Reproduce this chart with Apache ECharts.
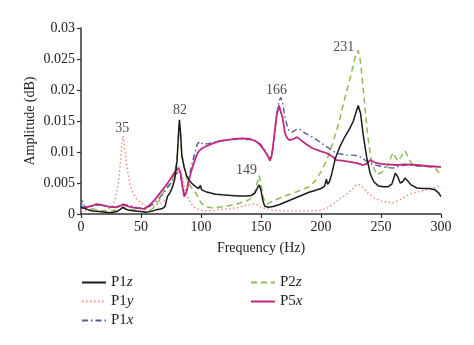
<!DOCTYPE html>
<html><head><meta charset="utf-8">
<script src="https://cdn.jsdelivr.net/npm/echarts@6/dist/echarts.min.js"></script>
<style>html,body{margin:0;padding:0;background:#fff}#c{width:474px;height:345px}</style>
</head><body><div id="c"></div>
<script>
const xTicks = [0, 50, 100, 150, 200, 250, 300];
const yTicks = [0, 0.005, 0.01, 0.015, 0.02, 0.025, 0.03];

const p1zF = [0,3,6,10,15,20,25,30,33,35,37,40,45,50,55,60,63,66,68,70,72,74,76,78,80,81,82,83,84,86,88,90,92,95,98,99.5,100.5,104,108,112,118,125,132,138,142,145,147,148.5,150,151.5,153,156,160,165,170,175,180,185,190,195,200,203,204.5,205.5,207,209,212,216,220,224,227,229,231,233,235,238,241,244,248,252,256,259,262,264,266,268,270,272,275,280,285,290,295,298,300];
const p1zA = [0.0012,0.0009,0.0007,0.0005,0.0004,0.0003,0.0002,0.0004,0.0008,0.0011,0.0008,0.0006,0.0005,0.0004,0.0003,0.0005,0.0007,0.0008,0.0009,0.0012,0.0028,0.0034,0.0042,0.0055,0.0085,0.012,0.0152,0.013,0.0095,0.0075,0.0062,0.0055,0.005,0.0045,0.0041,0.0046,0.0039,0.0036,0.0034,0.0032,0.0031,0.003,0.0029,0.0029,0.003,0.0034,0.0042,0.0047,0.0038,0.0022,0.0013,0.0011,0.0012,0.0015,0.0019,0.0023,0.0027,0.0031,0.0035,0.0038,0.0041,0.0045,0.0056,0.0048,0.0052,0.0065,0.009,0.011,0.0125,0.0138,0.015,0.0163,0.0175,0.0162,0.013,0.0092,0.0065,0.0052,0.0045,0.0044,0.0044,0.0048,0.0066,0.006,0.005,0.0052,0.0058,0.0054,0.0047,0.0042,0.0041,0.0041,0.0039,0.0034,0.0028];

const p1yF = [0,5,10,15,20,24,27,29,31,33,34,35,36,37,39,41,43,46,50,55,60,65,70,73,76,78,80,82,84,86,88,91,95,100,105,110,120,130,138,143,147,150,155,160,170,180,190,200,205,210,215,220,225,229,231,233,236,240,245,250,255,260,265,270,275,280,290,300];
const p1yA = [0.0006,0.0005,0.0004,0.0005,0.0006,0.0009,0.0016,0.0028,0.0048,0.0085,0.0112,0.0126,0.0115,0.0095,0.0068,0.0048,0.0035,0.0025,0.0018,0.0012,0.0012,0.0016,0.0022,0.003,0.0045,0.006,0.0072,0.0078,0.0065,0.0045,0.003,0.0018,0.001,0.0006,0.0005,0.0006,0.0008,0.001,0.0014,0.0016,0.0015,0.0011,0.0008,0.0006,0.0005,0.0005,0.0005,0.0006,0.0009,0.0016,0.0024,0.003,0.0038,0.0046,0.0048,0.0046,0.004,0.0032,0.0025,0.0021,0.0019,0.0018,0.0022,0.0028,0.0033,0.0035,0.004,0.0045];

const p1xF = [0,1,3,6,10,15,20,25,30,35,40,45,50,55,60,65,70,75,79,82,84,86,88,91,94,97,99,102,107,115,125,135,145,150,153,155,157.5,160,163,165,166.5,168,170,173,176,180,183,187,193,200,205,213,221,227,232,236,240,245,250,255,260,265,270,280,290,300];
const p1xA = [0.0008,0.0022,0.0012,0.0011,0.0013,0.0015,0.0014,0.0011,0.0012,0.0016,0.0014,0.0011,0.0009,0.001,0.0016,0.0025,0.0037,0.005,0.0064,0.007,0.0052,0.0032,0.0038,0.0068,0.0092,0.0113,0.0117,0.0112,0.0114,0.0118,0.012,0.0121,0.0119,0.0112,0.0104,0.0096,0.0088,0.0105,0.016,0.0182,0.0188,0.018,0.0155,0.0135,0.0132,0.0137,0.0136,0.013,0.0124,0.0115,0.0108,0.0098,0.0095,0.0095,0.0093,0.0088,0.0082,0.0079,0.0077,0.0075,0.0074,0.0077,0.0079,0.0078,0.0077,0.0076];

const p2zF = [0,5,10,15,20,25,30,35,40,45,50,55,60,63,66,68,70,72,75,78,80,81,82,83,84,86,88,90,93,96,100,104,108,115,122,130,136,140,143,145,147,148.5,150,152,155,160,170,180,190,195,200,205,210,215,220,225,229,231,233,236,239,242,246,250,255,260,264,267,270,273,277,285,295,300];
const p2zA = [0.001,0.0009,0.0008,0.0006,0.0005,0.0005,0.0007,0.001,0.0008,0.0006,0.0004,0.0003,0.0009,0.0016,0.0024,0.0032,0.0042,0.0045,0.005,0.0065,0.009,0.0122,0.0148,0.0122,0.0095,0.0075,0.0058,0.0048,0.004,0.0033,0.0018,0.0012,0.001,0.0011,0.0013,0.0016,0.002,0.0023,0.0028,0.0036,0.0052,0.0062,0.0048,0.0025,0.0016,0.0021,0.0029,0.0036,0.0044,0.0053,0.0068,0.0088,0.0115,0.0148,0.0188,0.0225,0.0257,0.0264,0.0245,0.0185,0.0125,0.0085,0.0064,0.0066,0.0076,0.0099,0.0085,0.0093,0.0102,0.009,0.0077,0.0077,0.0075,0.0062];

const p5xF = [0,5,10,13,16,20,25,30,35,40,45,50,53,57,62,66,70,74,77,79,81,83,84.5,86,88,90,92,94,96,98,101,105,110,115,121,128,135,141,146,149,152,155,157.5,159,161,163,165,166.5,168,170,172,174,177,180,184,188,193,200,205,210,213,218,224,230,235,238,241,245,250,255,263,270,280,290,300];
const p5xA = [0.0009,0.0011,0.0014,0.0016,0.0015,0.0013,0.0011,0.0011,0.0015,0.0012,0.001,0.0009,0.0008,0.0014,0.0024,0.0034,0.0044,0.0055,0.0064,0.007,0.0074,0.0066,0.0045,0.0028,0.0036,0.0055,0.007,0.0082,0.0093,0.0101,0.0106,0.011,0.0114,0.0117,0.0119,0.0121,0.0122,0.0121,0.0117,0.0112,0.0105,0.0096,0.0086,0.0095,0.0125,0.0158,0.0175,0.0172,0.0155,0.013,0.0122,0.0119,0.0121,0.0124,0.0118,0.0112,0.0106,0.0101,0.0098,0.0092,0.0087,0.0086,0.0084,0.0082,0.0079,0.0081,0.0087,0.0083,0.0081,0.008,0.0079,0.008,0.0079,0.0077,0.0076];

const annoText = ['35', '82', '149', '166', '231'];
const annoF = [34.3, 82.5, 138, 163, 219];
const annoA = [0.0138, 0.0167, 0.0070, 0.0200, 0.0269];

const zip = (f, a) => f.map((v, i) => [v, a[i]]);
const SERIF = '"Liberation Serif","DejaVu Serif",serif';
const rich = { i: { fontStyle: 'italic', fontFamily: SERIF, fontSize: 15, color: '#222' } };
const legendFmt = n => n.slice(0, 2) + '{i|' + n.slice(2) + '}';

function line(name, f, a, color, type, width, z) {
  return { name, type: 'line', data: zip(f, a), showSymbol: false, symbol: 'none', z,
    lineStyle: { color, type, width }, itemStyle: { color }, animation: false };
}

const legendBase = {
  orient: 'vertical', top: 275, padding: 0,
  itemWidth: 24, itemHeight: 14, itemGap: 4, itemTextGap: 10,
  itemStyle: { opacity: 0 },
  formatter: legendFmt,
  textStyle: { fontFamily: SERIF, fontSize: 15, color: '#222', rich }
};

const chart = echarts.init(document.getElementById('c'), null, { renderer: 'canvas' });
chart.setOption({
  backgroundColor: '#fff',
  animation: false,
  grid: { left: 81, right: 33, top: 28, bottom: 131, containLabel: false },
  xAxis: {
    type: 'value', min: 0, max: 300, interval: 50,
    name: 'Frequency (Hz)', nameLocation: 'middle', nameGap: 27, nameMoveOverlap: false,
    nameTextStyle: { fontFamily: SERIF, fontSize: 14, color: '#222', verticalAlign: 'top' },
    axisLine: { lineStyle: { color: '#333', width: 1.5 } },
    axisTick: { show: true, inside: false, length: 4, lineStyle: { color: '#333', width: 1.2 } },
    axisLabel: { fontFamily: SERIF, fontSize: 14, color: '#222', margin: 6 },
    splitLine: { show: false }
  },
  yAxis: {
    type: 'value', min: 0, max: 0.03, interval: 0.005,
    name: 'Amplitude (dB)', nameLocation: 'middle', nameGap: 44, nameMoveOverlap: false,
    nameTextStyle: { fontFamily: SERIF, fontSize: 14, color: '#222', verticalAlign: 'bottom' },
    axisLine: { show: true, lineStyle: { color: '#333', width: 1.5 } },
    axisTick: { show: true, inside: false, length: 4, lineStyle: { color: '#333', width: 1.2 } },
    axisLabel: { fontFamily: SERIF, fontSize: 14, color: '#222', margin: 6,
      formatter: v => String(+v.toFixed(3)) },
    splitLine: { show: false }
  },
  legend: [
    Object.assign({}, legendBase, { data: ['P1z', 'P1y', 'P1x'], left: 81 }),
    Object.assign({}, legendBase, { data: ['P2z', 'P5x'], left: 250 })
  ],
  series: [
    line('P1y', p1yF, p1yA, '#ef8c7c', [1.5, 2.5], 1.4, 2),
    line('P2z', p2zF, p2zA, '#8dbd52', [6, 4], 1.5, 3),
    line('P1x', p1xF, p1xA, '#4f5d9c', [6, 3, 1.5, 3], 1.4, 4),
    line('P5x', p5xF, p5xA, '#c3287e', 'solid', 1.8, 5),
    line('P1z', p1zF, p1zA, '#1a1a1a', 'solid', 1.5, 6),
    { name: 'anno', type: 'scatter', symbolSize: 0, silent: true, z: 10,
      data: annoF.map((f, i) => [f, annoA[i], annoText[i]]),
      label: { show: true, position: 'inside', formatter: p => p.value[2],
        fontFamily: SERIF, fontSize: 14, color: '#222' } }
  ]
});
</script></body></html>
